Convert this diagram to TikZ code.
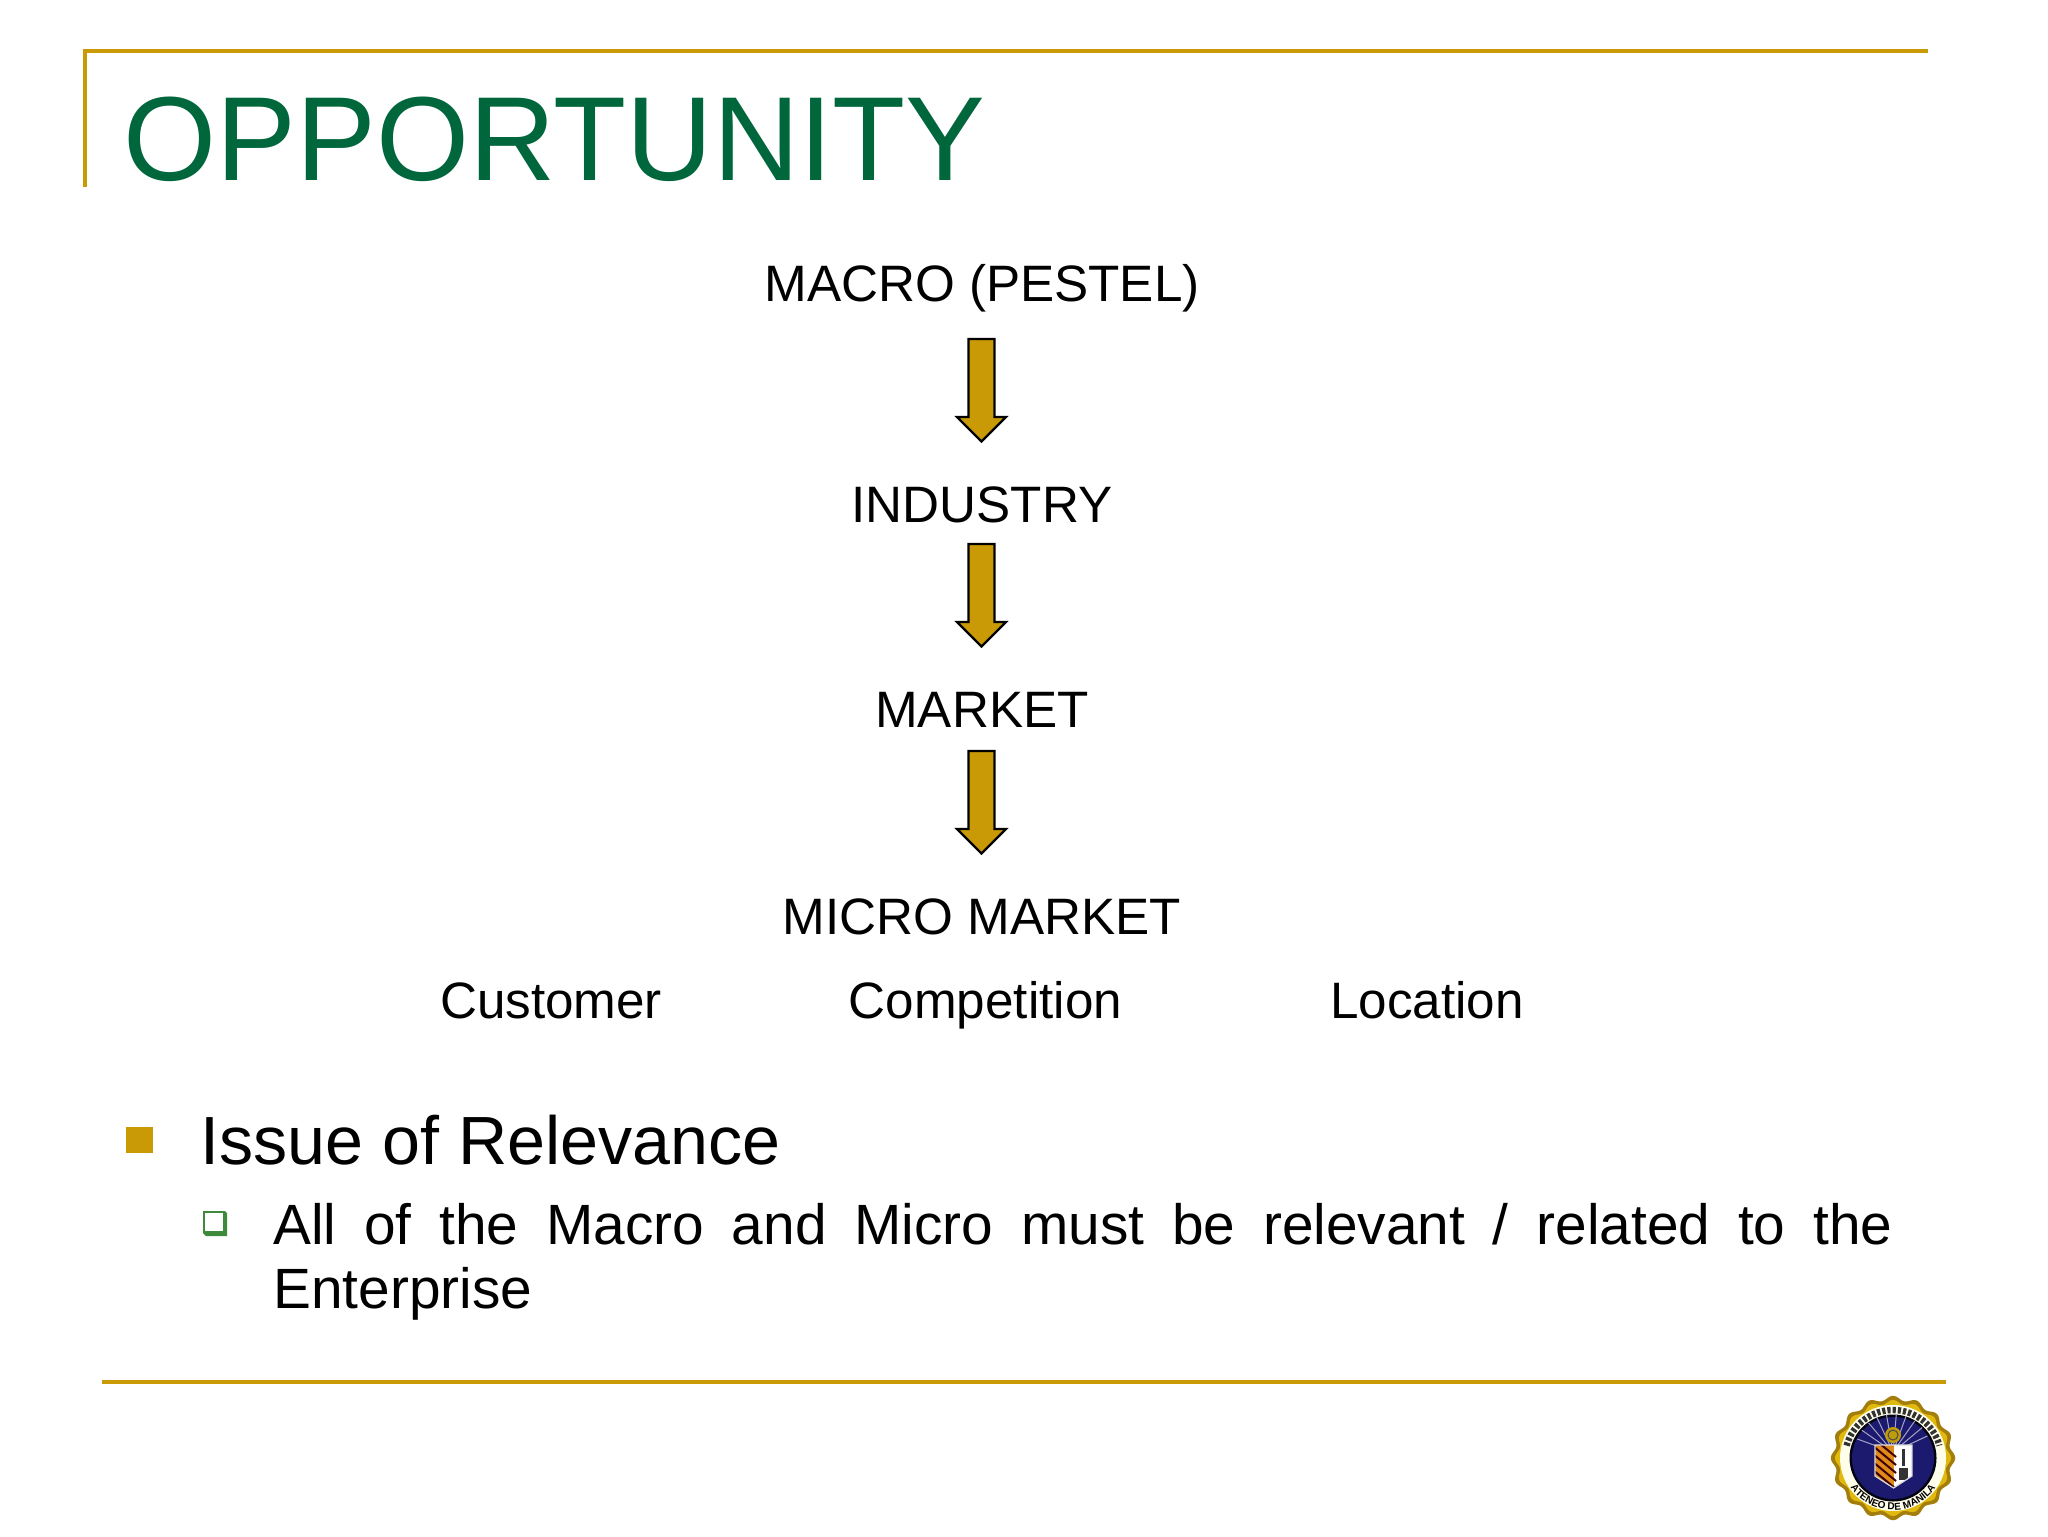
\documentclass[tikz,border=0pt]{standalone}
\usepackage{fontspec}
\setmainfont{Liberation Sans}
\usetikzlibrary{decorations.text}
\definecolor{gold}{HTML}{C99A05}
\definecolor{titlegreen}{HTML}{00663C}
\definecolor{subgreen}{HTML}{3C8A3A}
\definecolor{seal}{HTML}{1C1A6E}
\definecolor{sealgold}{HTML}{D9A810}
\definecolor{sealorange}{HTML}{E08A1C}
\tikzset{
  rulebar/.style={draw=none,fill=gold},
  titletext/.style={anchor=base west,inner sep=0,text=titlegreen,font=\fontsize{59.8pt}{62pt}\selectfont},
  flowtext/.style={anchor=base,inner sep=0,font=\fontsize{25.6pt}{30pt}\selectfont},
  bodytext/.style={anchor=base west,inner sep=0,font=\fontsize{34.1pt}{40pt}\selectfont},
  subtext/.style={anchor=base west,inner sep=0,font=\fontsize{28.4pt}{32pt}\selectfont},
  blockarrow/.style={draw=black,fill=gold,line width=1.1pt,line join=miter},
}
\begin{document}
\begin{tikzpicture}[x=0.5pt,y=-0.5pt]
\useasboundingbox (0,0) rectangle (2048,1536);
\fill[white] (0,0) rectangle (2048,1536);
% header and footer rules
\fill[rulebar] (83,49) rectangle (1928,53);
\fill[rulebar] (83,49) rectangle (87,187);
\fill[rulebar] (102,1380) rectangle (1946,1384);
% title
\node[titletext] (title) at (123.5,180) {OPPORTUNITY};
% flow
\node[flowtext] (macro) at (982,301) {MACRO (PESTEL)};
\node[flowtext] (industry) at (982,522.5) {INDUSTRY};
\node[flowtext] (market) at (982,727.5) {MARKET};
\node[flowtext] (micro) at (982,934.5) {MICRO MARKET};
\node[flowtext] (customer) at (551,1018) {Customer};
\node[flowtext] (competition) at (985.5,1018) {Competition};
\node[flowtext] (location) at (1427,1018) {Location};
% block arrows
\coordinate (a1) at (981.5,339);
\coordinate (a2) at (981.5,544);
\coordinate (a3) at (981.5,751);
\foreach \a in {a1,a2,a3}{
  \draw[blockarrow] (\a) ++(-13,0) -- ++(26,0) -- ++(0,78) -- ++(11.5,0) -- ++(-24.5,24.5) -- ++(-24.5,-24.5) -- ++(11.5,0) -- cycle;
}
% bullets
\fill[gold] (126,1127) rectangle (153,1153);
\node[bodytext] (issue) at (200,1164) {Issue of Relevance};
\fill[subgreen] (203,1211) -- (225,1211) -- (227,1213) -- (227,1236) -- (206,1236) -- (203,1233) -- cycle;
\fill[white] (205,1213) rectangle (223,1231);
\node[subtext] (sub) at (273,1244) {\parbox[t]{809.5pt}{\tolerance=10000 \hbadness=10000 All of the Macro and Micro must be relevant / related to the \mbox{Enterprise}}};
% seal
\def\cx{1893}\def\cy{1458}
\fill[sealgold!75!black] plot[domain=0:360,samples=241,smooth] ({\cx+(60+2.2*cos(16*\x))*cos(\x)},{\cy+(60+2.2*cos(16*\x))*sin(\x)}) -- cycle;
\fill[sealgold!80!yellow] plot[domain=0:360,samples=241,smooth] ({\cx+(56+2*cos(16*\x))*cos(\x)},{\cy+(56+2*cos(16*\x))*sin(\x)}) -- cycle;
\fill[white!92!yellow] (\cx,\cy) circle[radius=53];
\fill[black!85!seal] (\cx,\cy) circle[radius=43.5];
\fill[seal] (\cx,\cy) circle[radius=41];
\foreach \t in {200,215,...,340}{
  \draw[white!60!seal,line width=.5pt] (\cx,\cy-6) -- ++({\t}:38);
}
\fill[sealgold!70!olive] (\cx,\cy-23) circle[radius=8];
\draw[black!70,line width=.5pt] (\cx,\cy-23) circle[radius=5];
% shield
\begin{scope}
\clip (1875,1445) -- (1912,1445) -- (1912,1476) -- (1893.5,1488) -- (1875,1476) -- cycle;
\fill[sealorange] (1875,1445) rectangle (1894,1490);
\fill[white] (1894,1445) rectangle (1912,1490);
\foreach \d in {0,8,...,48}{
  \draw[black!75!red,line width=1pt] (1873,1438+\d) -- (1896,1457+\d);
}
\fill[black!80] (1902,1449) rectangle (1905,1466);
\fill[black!80] (1899,1468) rectangle (1908,1480);
\end{scope}
\draw[white!85!black,line width=.6pt] (1875,1445) -- (1912,1445) -- (1912,1476) -- (1893.5,1488) -- (1875,1476) -- cycle;
% ring lettering
\draw[black!80,line width=3.2pt,dash pattern=on 1.6pt off 1pt] plot[domain=195:345,samples=60] ({\cx+48*cos(\x)},{\cy+48*sin(\x)});
\path[postaction={decorate},decoration={text along path,text align=center,text={|\fontsize{5pt}{6pt}\selectfont\bfseries|ATENEO DE MANILA}}]
  plot[domain=165:15,samples=60] ({\cx+52*cos(\x)},{\cy+52*sin(\x)});
\end{tikzpicture}
\end{document}
